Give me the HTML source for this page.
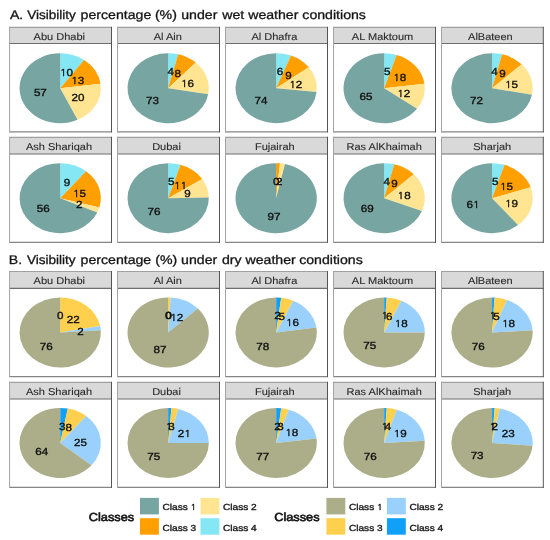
<!DOCTYPE html>
<html><head><meta charset="utf-8"><title>Visibility percentage</title>
<style>html,body{margin:0;padding:0;background:#fff;}body{width:550px;height:540px;overflow:hidden;}svg{display:block;font-family:"Liberation Sans",Arial,sans-serif;}</style>
</head><body>
<svg width="550" height="540" viewBox="0 0 550 540" font-family="Liberation Sans, Arial, sans-serif" text-rendering="geometricPrecision">
<text transform="translate(9.90,18.9) scale(1.1294,1)" font-size="12.5" fill="#141414" stroke="#141414" stroke-width="0.3">A.</text>
<text transform="translate(27.16,18.9) scale(1.0842,1)" font-size="12.5" fill="#141414" stroke="#141414" stroke-width="0.3">Visibility</text>
<text transform="translate(80.62,18.9) scale(1.1294,1)" font-size="12.5" fill="#141414" stroke="#141414" stroke-width="0.3">percentage</text>
<text transform="translate(154.88,18.9) scale(1.1294,1)" font-size="12.5" fill="#141414" stroke="#141414" stroke-width="0.3">(%)</text>
<text transform="translate(181.26,18.9) scale(1.1294,1)" font-size="12.5" fill="#141414" stroke="#141414" stroke-width="0.3">under</text>
<text transform="translate(222.29,18.9) scale(1.1294,1)" font-size="12.5" fill="#141414" stroke="#141414" stroke-width="0.3">wet</text>
<text transform="translate(248.18,18.9) scale(1.1294,1)" font-size="12.5" fill="#141414" stroke="#141414" stroke-width="0.3">weather</text>
<text transform="translate(302.33,18.9) scale(1.1294,1)" font-size="12.5" fill="#141414" stroke="#141414" stroke-width="0.3">conditions</text>
<text transform="translate(8.80,263.9) scale(1.1289,1)" font-size="12.5" fill="#141414" stroke="#141414" stroke-width="0.3">B.</text>
<text transform="translate(26.95,263.9) scale(1.0838,1)" font-size="12.5" fill="#141414" stroke="#141414" stroke-width="0.3">Visibility</text>
<text transform="translate(80.59,263.9) scale(1.1289,1)" font-size="12.5" fill="#141414" stroke="#141414" stroke-width="0.3">percentage</text>
<text transform="translate(155.32,263.9) scale(1.1289,1)" font-size="12.5" fill="#141414" stroke="#141414" stroke-width="0.3">(%)</text>
<text transform="translate(181.09,263.9) scale(1.1289,1)" font-size="12.5" fill="#141414" stroke="#141414" stroke-width="0.3">under</text>
<text transform="translate(222.01,263.9) scale(1.1289,1)" font-size="12.5" fill="#141414" stroke="#141414" stroke-width="0.3">dry</text>
<text transform="translate(245.53,263.9) scale(1.1289,1)" font-size="12.5" fill="#141414" stroke="#141414" stroke-width="0.3">weather</text>
<text transform="translate(299.16,263.9) scale(1.1289,1)" font-size="12.5" fill="#141414" stroke="#141414" stroke-width="0.3">conditions</text>
<rect x="9.60" y="27.30" width="101.90" height="16.20" fill="#d9d9d9"/>
<line x1="9.10" y1="27.30" x2="112.00" y2="27.30" stroke="#a0a0a0" stroke-width="1.2"/>
<line x1="9.10" y1="43.50" x2="112.00" y2="43.50" stroke="#6e6e6e" stroke-width="1.2"/>
<line x1="9.10" y1="131.85" x2="112.00" y2="131.85" stroke="#858585" stroke-width="1.3"/>
<line x1="9.60" y1="26.80" x2="9.60" y2="132.35" stroke="#a4a4a4" stroke-width="1.0"/>
<line x1="111.50" y1="26.80" x2="111.50" y2="132.35" stroke="#555555" stroke-width="1.0"/>
<text transform="translate(59.25,39.70) scale(1.115,1)" font-size="9.9" text-anchor="middle" fill="#2c2c2c" font-weight="normal"  stroke="#2c2c2c" stroke-width="0.12">Abu Dhabi</text>
<path d="M60.20,88.20L60.20,53.20A40.65,35.0 0 0,1 84.09,59.88Z" fill="#85e6f4"/>
<path d="M60.20,88.20L84.09,59.88A40.65,35.0 0 0,1 100.53,83.81Z" fill="#ff9f00"/>
<path d="M60.20,88.20L100.53,83.81A40.65,35.0 0 0,1 77.51,119.87Z" fill="#ffe592"/>
<path d="M60.20,88.20L77.51,119.87A40.65,35.0 0 1,1 60.20,53.20Z" fill="#77a5a1"/>
<text transform="translate(66.48,75.86) scale(1.13,1)" font-size="10.3" text-anchor="middle" fill="#111" font-weight="normal"  stroke="#111" stroke-width="0.35"><tspan font-family="NanumGothic, Liberation Sans, sans-serif" font-size="9.50">1</tspan>0</text>
<text transform="translate(77.69,83.59) scale(1.13,1)" font-size="10.3" text-anchor="middle" fill="#111" font-weight="normal"  stroke="#111" stroke-width="0.35"><tspan font-family="NanumGothic, Liberation Sans, sans-serif" font-size="9.50">1</tspan>3</text>
<text transform="translate(78.01,100.93) scale(1.13,1)" font-size="10.3" text-anchor="middle" fill="#111" font-weight="normal"  stroke="#111" stroke-width="0.35">20</text>
<text transform="translate(40.36,96.32) scale(1.13,1)" font-size="10.3" text-anchor="middle" fill="#111" font-weight="normal"  stroke="#111" stroke-width="0.35">57</text>
<rect x="117.50" y="27.30" width="102.00" height="16.20" fill="#d9d9d9"/>
<line x1="117.00" y1="27.30" x2="220.00" y2="27.30" stroke="#a0a0a0" stroke-width="1.2"/>
<line x1="117.00" y1="43.50" x2="220.00" y2="43.50" stroke="#6e6e6e" stroke-width="1.2"/>
<line x1="117.00" y1="131.85" x2="220.00" y2="131.85" stroke="#858585" stroke-width="1.3"/>
<line x1="117.50" y1="26.80" x2="117.50" y2="132.35" stroke="#a4a4a4" stroke-width="1.0"/>
<line x1="219.50" y1="26.80" x2="219.50" y2="132.35" stroke="#555555" stroke-width="1.0"/>
<text transform="translate(167.75,39.70) scale(1.115,1)" font-size="9.9" text-anchor="middle" fill="#2c2c2c" font-weight="normal"  stroke="#2c2c2c" stroke-width="0.12">Al Ain</text>
<path d="M168.15,88.20L168.15,53.20A40.65,35.0 0 0,1 178.16,54.28Z" fill="#85e6f4"/>
<path d="M168.15,88.20L178.16,54.28A40.65,35.0 0 0,1 195.75,62.51Z" fill="#ff9f00"/>
<path d="M168.15,88.20L195.75,62.51A40.65,35.0 0 0,1 208.21,94.16Z" fill="#ffe592"/>
<path d="M168.15,88.20L208.21,94.16A40.65,35.0 0 1,1 168.15,53.20Z" fill="#77a5a1"/>
<text transform="translate(170.67,75.14) scale(1.13,1)" font-size="10.3" text-anchor="middle" fill="#111" font-weight="normal"  stroke="#111" stroke-width="0.35">4</text>
<text transform="translate(177.85,77.12) scale(1.13,1)" font-size="10.3" text-anchor="middle" fill="#111" font-weight="normal"  stroke="#111" stroke-width="0.35">8</text>
<text transform="translate(187.40,86.89) scale(1.13,1)" font-size="10.3" text-anchor="middle" fill="#111" font-weight="normal"  stroke="#111" stroke-width="0.35"><tspan font-family="NanumGothic, Liberation Sans, sans-serif" font-size="9.50">1</tspan>6</text>
<text transform="translate(152.60,103.77) scale(1.13,1)" font-size="10.3" text-anchor="middle" fill="#111" font-weight="normal"  stroke="#111" stroke-width="0.35">73</text>
<rect x="225.50" y="27.30" width="102.00" height="16.20" fill="#d9d9d9"/>
<line x1="225.00" y1="27.30" x2="328.00" y2="27.30" stroke="#a0a0a0" stroke-width="1.2"/>
<line x1="225.00" y1="43.50" x2="328.00" y2="43.50" stroke="#6e6e6e" stroke-width="1.2"/>
<line x1="225.00" y1="131.85" x2="328.00" y2="131.85" stroke="#858585" stroke-width="1.3"/>
<line x1="225.50" y1="26.80" x2="225.50" y2="132.35" stroke="#a4a4a4" stroke-width="1.0"/>
<line x1="327.50" y1="26.80" x2="327.50" y2="132.35" stroke="#555555" stroke-width="1.0"/>
<text transform="translate(274.35,39.70) scale(1.115,1)" font-size="9.9" text-anchor="middle" fill="#2c2c2c" font-weight="normal"  stroke="#2c2c2c" stroke-width="0.12">Al Dhafra</text>
<path d="M276.15,88.20L276.15,53.20A40.65,35.0 0 0,1 290.97,55.61Z" fill="#85e6f4"/>
<path d="M276.15,88.20L290.97,55.61A40.65,35.0 0 0,1 308.81,67.36Z" fill="#ff9f00"/>
<path d="M276.15,88.20L308.81,67.36A40.65,35.0 0 0,1 316.56,92.00Z" fill="#ffe592"/>
<path d="M276.15,88.20L316.56,92.00A40.65,35.0 0 1,1 276.15,53.20Z" fill="#77a5a1"/>
<text transform="translate(279.92,75.30) scale(1.13,1)" font-size="10.3" text-anchor="middle" fill="#111" font-weight="normal"  stroke="#111" stroke-width="0.35">6</text>
<text transform="translate(288.50,78.60) scale(1.13,1)" font-size="10.3" text-anchor="middle" fill="#111" font-weight="normal"  stroke="#111" stroke-width="0.35">9</text>
<text transform="translate(295.77,87.93) scale(1.13,1)" font-size="10.3" text-anchor="middle" fill="#111" font-weight="normal"  stroke="#111" stroke-width="0.35"><tspan font-family="NanumGothic, Liberation Sans, sans-serif" font-size="9.50">1</tspan>2</text>
<text transform="translate(261.02,104.18) scale(1.13,1)" font-size="10.3" text-anchor="middle" fill="#111" font-weight="normal"  stroke="#111" stroke-width="0.35">74</text>
<rect x="333.50" y="27.30" width="102.00" height="16.20" fill="#d9d9d9"/>
<line x1="333.00" y1="27.30" x2="436.00" y2="27.30" stroke="#a0a0a0" stroke-width="1.2"/>
<line x1="333.00" y1="43.50" x2="436.00" y2="43.50" stroke="#6e6e6e" stroke-width="1.2"/>
<line x1="333.00" y1="131.85" x2="436.00" y2="131.85" stroke="#858585" stroke-width="1.3"/>
<line x1="333.50" y1="26.80" x2="333.50" y2="132.35" stroke="#a4a4a4" stroke-width="1.0"/>
<line x1="435.50" y1="26.80" x2="435.50" y2="132.35" stroke="#555555" stroke-width="1.0"/>
<text transform="translate(382.55,39.70) scale(1.115,1)" font-size="9.9" text-anchor="middle" fill="#2c2c2c" font-weight="normal"  stroke="#2c2c2c" stroke-width="0.12">AL Maktoum</text>
<path d="M384.15,88.20L384.15,53.20A40.65,35.0 0 0,1 396.71,54.91Z" fill="#85e6f4"/>
<path d="M384.15,88.20L396.71,54.91A40.65,35.0 0 0,1 424.48,83.81Z" fill="#ff9f00"/>
<path d="M384.15,88.20L424.48,83.81A40.65,35.0 0 0,1 417.04,108.77Z" fill="#ffe592"/>
<path d="M384.15,88.20L417.04,108.77A40.65,35.0 0 1,1 384.15,53.20Z" fill="#77a5a1"/>
<text transform="translate(387.33,75.22) scale(1.13,1)" font-size="10.3" text-anchor="middle" fill="#111" font-weight="normal"  stroke="#111" stroke-width="0.35">5</text>
<text transform="translate(399.81,81.35) scale(1.13,1)" font-size="10.3" text-anchor="middle" fill="#111" font-weight="normal"  stroke="#111" stroke-width="0.35"><tspan font-family="NanumGothic, Liberation Sans, sans-serif" font-size="9.50">1</tspan>8</text>
<text transform="translate(403.84,96.85) scale(1.13,1)" font-size="10.3" text-anchor="middle" fill="#111" font-weight="normal"  stroke="#111" stroke-width="0.35"><tspan font-family="NanumGothic, Liberation Sans, sans-serif" font-size="9.50">1</tspan>2</text>
<text transform="translate(366.04,100.44) scale(1.13,1)" font-size="10.3" text-anchor="middle" fill="#111" font-weight="normal"  stroke="#111" stroke-width="0.35">65</text>
<rect x="441.50" y="27.30" width="101.80" height="16.20" fill="#d9d9d9"/>
<line x1="441.00" y1="27.30" x2="543.80" y2="27.30" stroke="#a0a0a0" stroke-width="1.2"/>
<line x1="441.00" y1="43.50" x2="543.80" y2="43.50" stroke="#6e6e6e" stroke-width="1.2"/>
<line x1="441.00" y1="131.85" x2="543.80" y2="131.85" stroke="#858585" stroke-width="1.3"/>
<line x1="441.50" y1="26.80" x2="441.50" y2="132.35" stroke="#a4a4a4" stroke-width="1.0"/>
<line x1="543.30" y1="26.80" x2="543.30" y2="132.35" stroke="#555555" stroke-width="1.0"/>
<text transform="translate(490.40,39.70) scale(1.115,1)" font-size="9.9" text-anchor="middle" fill="#2c2c2c" font-weight="normal"  stroke="#2c2c2c" stroke-width="0.12">AlBateen</text>
<path d="M492.05,88.20L492.05,53.20A40.65,35.0 0 0,1 502.16,54.30Z" fill="#85e6f4"/>
<path d="M492.05,88.20L502.16,54.30A40.65,35.0 0 0,1 521.68,64.24Z" fill="#ff9f00"/>
<path d="M492.05,88.20L521.68,64.24A40.65,35.0 0 0,1 531.98,94.76Z" fill="#ffe592"/>
<path d="M492.05,88.20L531.98,94.76A40.65,35.0 0 1,1 492.05,53.20Z" fill="#77a5a1"/>
<text transform="translate(494.60,75.14) scale(1.13,1)" font-size="10.3" text-anchor="middle" fill="#111" font-weight="normal"  stroke="#111" stroke-width="0.35">4</text>
<text transform="translate(502.40,77.44) scale(1.13,1)" font-size="10.3" text-anchor="middle" fill="#111" font-weight="normal"  stroke="#111" stroke-width="0.35">9</text>
<text transform="translate(511.57,87.62) scale(1.13,1)" font-size="10.3" text-anchor="middle" fill="#111" font-weight="normal"  stroke="#111" stroke-width="0.35"><tspan font-family="NanumGothic, Liberation Sans, sans-serif" font-size="9.50">1</tspan>5</text>
<text transform="translate(476.39,103.65) scale(1.13,1)" font-size="10.3" text-anchor="middle" fill="#111" font-weight="normal"  stroke="#111" stroke-width="0.35">72</text>
<rect x="9.60" y="137.30" width="101.90" height="16.70" fill="#d9d9d9"/>
<line x1="9.10" y1="137.30" x2="112.00" y2="137.30" stroke="#a0a0a0" stroke-width="1.2"/>
<line x1="9.10" y1="154.00" x2="112.00" y2="154.00" stroke="#6e6e6e" stroke-width="1.2"/>
<line x1="9.10" y1="242.40" x2="112.00" y2="242.40" stroke="#858585" stroke-width="1.3"/>
<line x1="9.60" y1="136.80" x2="9.60" y2="242.90" stroke="#a4a4a4" stroke-width="1.0"/>
<line x1="111.50" y1="136.80" x2="111.50" y2="242.90" stroke="#555555" stroke-width="1.0"/>
<text transform="translate(58.95,150.05) scale(1.115,1)" font-size="9.9" text-anchor="middle" fill="#2c2c2c" font-weight="normal"  stroke="#2c2c2c" stroke-width="0.12">Ash Shariqah</text>
<path d="M60.20,198.15L60.20,163.15A40.65,35.0 0 0,1 86.06,171.15Z" fill="#85e6f4"/>
<path d="M60.20,198.15L86.06,171.15A40.65,35.0 0 0,1 99.40,207.42Z" fill="#ff9f00"/>
<path d="M60.20,198.15L99.40,207.42A40.65,35.0 0 0,1 97.29,212.47Z" fill="#ffe592"/>
<path d="M60.20,198.15L97.29,212.47A40.65,35.0 0 1,1 60.20,163.15Z" fill="#77a5a1"/>
<text transform="translate(67.07,185.98) scale(1.13,1)" font-size="10.3" text-anchor="middle" fill="#111" font-weight="normal"  stroke="#111" stroke-width="0.35">9</text>
<text transform="translate(79.58,197.17) scale(1.13,1)" font-size="10.3" text-anchor="middle" fill="#111" font-weight="normal"  stroke="#111" stroke-width="0.35"><tspan font-family="NanumGothic, Liberation Sans, sans-serif" font-size="9.50">1</tspan>5</text>
<text transform="translate(79.33,208.37) scale(1.13,1)" font-size="10.3" text-anchor="middle" fill="#111" font-weight="normal"  stroke="#111" stroke-width="0.35">2</text>
<text transform="translate(43.14,211.96) scale(1.13,1)" font-size="10.3" text-anchor="middle" fill="#111" font-weight="normal"  stroke="#111" stroke-width="0.35">56</text>
<rect x="117.50" y="137.30" width="102.00" height="16.70" fill="#d9d9d9"/>
<line x1="117.00" y1="137.30" x2="220.00" y2="137.30" stroke="#a0a0a0" stroke-width="1.2"/>
<line x1="117.00" y1="154.00" x2="220.00" y2="154.00" stroke="#6e6e6e" stroke-width="1.2"/>
<line x1="117.00" y1="242.40" x2="220.00" y2="242.40" stroke="#858585" stroke-width="1.3"/>
<line x1="117.50" y1="136.80" x2="117.50" y2="242.90" stroke="#a4a4a4" stroke-width="1.0"/>
<line x1="219.50" y1="136.80" x2="219.50" y2="242.90" stroke="#555555" stroke-width="1.0"/>
<text transform="translate(166.55,150.05) scale(1.115,1)" font-size="9.9" text-anchor="middle" fill="#2c2c2c" font-weight="normal"  stroke="#2c2c2c" stroke-width="0.12">Dubai</text>
<path d="M168.15,198.15L168.15,163.15A40.65,35.0 0 0,1 180.59,164.83Z" fill="#85e6f4"/>
<path d="M168.15,198.15L180.59,164.83A40.65,35.0 0 0,1 202.25,179.10Z" fill="#ff9f00"/>
<path d="M168.15,198.15L202.25,179.10A40.65,35.0 0 0,1 208.80,197.61Z" fill="#ffe592"/>
<path d="M168.15,198.15L208.80,197.61A40.65,35.0 0 1,1 168.15,163.15Z" fill="#77a5a1"/>
<text transform="translate(171.30,185.16) scale(1.13,1)" font-size="10.3" text-anchor="middle" fill="#111" font-weight="normal"  stroke="#111" stroke-width="0.35">5</text>
<text transform="translate(180.50,188.55) scale(1.13,1)" font-size="10.3" text-anchor="middle" fill="#111" font-weight="normal"  stroke="#111" stroke-width="0.35"><tspan font-family="NanumGothic, Liberation Sans, sans-serif" font-size="9.50">1</tspan><tspan font-family="NanumGothic, Liberation Sans, sans-serif" font-size="9.50">1</tspan></text>
<text transform="translate(187.59,197.35) scale(1.13,1)" font-size="10.3" text-anchor="middle" fill="#111" font-weight="normal"  stroke="#111" stroke-width="0.35">9</text>
<text transform="translate(153.89,214.92) scale(1.13,1)" font-size="10.3" text-anchor="middle" fill="#111" font-weight="normal"  stroke="#111" stroke-width="0.35">76</text>
<rect x="225.50" y="137.30" width="102.00" height="16.70" fill="#d9d9d9"/>
<line x1="225.00" y1="137.30" x2="328.00" y2="137.30" stroke="#a0a0a0" stroke-width="1.2"/>
<line x1="225.00" y1="154.00" x2="328.00" y2="154.00" stroke="#6e6e6e" stroke-width="1.2"/>
<line x1="225.00" y1="242.40" x2="328.00" y2="242.40" stroke="#858585" stroke-width="1.3"/>
<line x1="225.50" y1="136.80" x2="225.50" y2="242.90" stroke="#a4a4a4" stroke-width="1.0"/>
<line x1="327.50" y1="136.80" x2="327.50" y2="242.90" stroke="#555555" stroke-width="1.0"/>
<text transform="translate(274.80,150.05) scale(1.115,1)" font-size="9.9" text-anchor="middle" fill="#2c2c2c" font-weight="normal"  stroke="#2c2c2c" stroke-width="0.12">Fujairah</text>
<path d="M276.15,198.15L276.15,163.15A40.65,35.0 0 0,1 279.98,163.31Z" fill="#ff9f00"/>
<path d="M276.15,198.15L279.98,163.31A40.65,35.0 0 0,1 285.02,163.99Z" fill="#ffe592"/>
<path d="M276.15,198.15L285.02,163.99A40.65,35.0 0 1,1 276.15,163.15Z" fill="#77a5a1"/>
<text transform="translate(276.15,184.95) scale(1.13,1)" font-size="10.3" text-anchor="middle" fill="#111" font-weight="normal"  stroke="#111" stroke-width="0.35">0</text>
<text transform="translate(279.33,185.17) scale(1.13,1)" font-size="10.3" text-anchor="middle" fill="#111" font-weight="normal"  stroke="#111" stroke-width="0.35">2</text>
<text transform="translate(273.92,219.84) scale(1.13,1)" font-size="10.3" text-anchor="middle" fill="#111" font-weight="normal"  stroke="#111" stroke-width="0.35">97</text>
<rect x="333.50" y="137.30" width="102.00" height="16.70" fill="#d9d9d9"/>
<line x1="333.00" y1="137.30" x2="436.00" y2="137.30" stroke="#a0a0a0" stroke-width="1.2"/>
<line x1="333.00" y1="154.00" x2="436.00" y2="154.00" stroke="#6e6e6e" stroke-width="1.2"/>
<line x1="333.00" y1="242.40" x2="436.00" y2="242.40" stroke="#858585" stroke-width="1.3"/>
<line x1="333.50" y1="136.80" x2="333.50" y2="242.90" stroke="#a4a4a4" stroke-width="1.0"/>
<line x1="435.50" y1="136.80" x2="435.50" y2="242.90" stroke="#555555" stroke-width="1.0"/>
<text transform="translate(384.15,150.05) scale(1.115,1)" font-size="9.9" text-anchor="middle" fill="#2c2c2c" font-weight="normal"  stroke="#2c2c2c" stroke-width="0.12">Ras AlKhaimah</text>
<path d="M384.15,198.15L384.15,163.15A40.65,35.0 0 0,1 394.26,164.25Z" fill="#85e6f4"/>
<path d="M384.15,198.15L394.26,164.25A40.65,35.0 0 0,1 413.78,174.19Z" fill="#ff9f00"/>
<path d="M384.15,198.15L413.78,174.19A40.65,35.0 0 0,1 421.95,211.03Z" fill="#ffe592"/>
<path d="M384.15,198.15L421.95,211.03A40.65,35.0 0 1,1 384.15,163.15Z" fill="#77a5a1"/>
<text transform="translate(386.70,185.09) scale(1.13,1)" font-size="10.3" text-anchor="middle" fill="#111" font-weight="normal"  stroke="#111" stroke-width="0.35">4</text>
<text transform="translate(394.50,187.39) scale(1.13,1)" font-size="10.3" text-anchor="middle" fill="#111" font-weight="normal"  stroke="#111" stroke-width="0.35">9</text>
<text transform="translate(404.11,199.17) scale(1.13,1)" font-size="10.3" text-anchor="middle" fill="#111" font-weight="normal"  stroke="#111" stroke-width="0.35"><tspan font-family="NanumGothic, Liberation Sans, sans-serif" font-size="9.50">1</tspan>8</text>
<text transform="translate(367.34,212.29) scale(1.13,1)" font-size="10.3" text-anchor="middle" fill="#111" font-weight="normal"  stroke="#111" stroke-width="0.35">69</text>
<rect x="441.50" y="137.30" width="101.80" height="16.70" fill="#d9d9d9"/>
<line x1="441.00" y1="137.30" x2="543.80" y2="137.30" stroke="#a0a0a0" stroke-width="1.2"/>
<line x1="441.00" y1="154.00" x2="543.80" y2="154.00" stroke="#6e6e6e" stroke-width="1.2"/>
<line x1="441.00" y1="242.40" x2="543.80" y2="242.40" stroke="#858585" stroke-width="1.3"/>
<line x1="441.50" y1="136.80" x2="441.50" y2="242.90" stroke="#a4a4a4" stroke-width="1.0"/>
<line x1="543.30" y1="136.80" x2="543.30" y2="242.90" stroke="#555555" stroke-width="1.0"/>
<text transform="translate(492.15,150.05) scale(1.115,1)" font-size="9.9" text-anchor="middle" fill="#2c2c2c" font-weight="normal"  stroke="#2c2c2c" stroke-width="0.12">Sharjah</text>
<path d="M492.05,198.15L492.05,163.15A40.65,35.0 0 0,1 504.61,164.86Z" fill="#85e6f4"/>
<path d="M492.05,198.15L504.61,164.86A40.65,35.0 0 0,1 530.71,187.33Z" fill="#ff9f00"/>
<path d="M492.05,198.15L530.71,187.33A40.65,35.0 0 0,1 517.96,225.12Z" fill="#ffe592"/>
<path d="M492.05,198.15L517.96,225.12A40.65,35.0 0 1,1 492.05,163.15Z" fill="#77a5a1"/>
<text transform="translate(495.23,185.17) scale(1.13,1)" font-size="10.3" text-anchor="middle" fill="#111" font-weight="normal"  stroke="#111" stroke-width="0.35">5</text>
<text transform="translate(506.42,190.08) scale(1.13,1)" font-size="10.3" text-anchor="middle" fill="#111" font-weight="normal"  stroke="#111" stroke-width="0.35"><tspan font-family="NanumGothic, Liberation Sans, sans-serif" font-size="9.50">1</tspan>5</text>
<text transform="translate(511.57,207.33) scale(1.13,1)" font-size="10.3" text-anchor="middle" fill="#111" font-weight="normal"  stroke="#111" stroke-width="0.35"><tspan font-family="NanumGothic, Liberation Sans, sans-serif" font-size="9.50">1</tspan>9</text>
<text transform="translate(472.93,208.38) scale(1.13,1)" font-size="10.3" text-anchor="middle" fill="#111" font-weight="normal"  stroke="#111" stroke-width="0.35">6<tspan font-family="NanumGothic, Liberation Sans, sans-serif" font-size="9.50">1</tspan></text>
<rect x="9.60" y="271.50" width="101.90" height="16.80" fill="#d9d9d9"/>
<line x1="9.10" y1="271.50" x2="112.00" y2="271.50" stroke="#a0a0a0" stroke-width="1.2"/>
<line x1="9.10" y1="288.30" x2="112.00" y2="288.30" stroke="#6e6e6e" stroke-width="1.2"/>
<line x1="9.10" y1="376.60" x2="112.00" y2="376.60" stroke="#858585" stroke-width="1.3"/>
<line x1="9.60" y1="271.00" x2="9.60" y2="377.10" stroke="#a4a4a4" stroke-width="1.0"/>
<line x1="111.50" y1="271.00" x2="111.50" y2="377.10" stroke="#555555" stroke-width="1.0"/>
<text transform="translate(59.25,283.70) scale(1.115,1)" font-size="9.9" text-anchor="middle" fill="#2c2c2c" font-weight="normal"  stroke="#2c2c2c" stroke-width="0.12">Abu Dhabi</text>
<path d="M60.20,332.50L60.20,297.50A40.65,35.0 0 0,1 100.13,325.94Z" fill="#ffd04d"/>
<path d="M60.20,332.50L100.13,325.94A40.65,35.0 0 0,1 100.77,330.30Z" fill="#99d1fc"/>
<path d="M60.20,332.50L100.77,330.30A40.65,35.0 0 1,1 60.20,297.50Z" fill="#abae88"/>
<text transform="translate(60.20,319.30) scale(1.13,1)" font-size="10.3" text-anchor="middle" fill="#111" font-weight="normal"  stroke="#111" stroke-width="0.35">0</text>
<text transform="translate(73.16,323.32) scale(1.13,1)" font-size="10.3" text-anchor="middle" fill="#111" font-weight="normal"  stroke="#111" stroke-width="0.35">22</text>
<text transform="translate(80.36,334.61) scale(1.13,1)" font-size="10.3" text-anchor="middle" fill="#111" font-weight="normal"  stroke="#111" stroke-width="0.35">2</text>
<text transform="translate(46.29,349.56) scale(1.13,1)" font-size="10.3" text-anchor="middle" fill="#111" font-weight="normal"  stroke="#111" stroke-width="0.35">76</text>
<rect x="117.50" y="271.50" width="102.00" height="16.80" fill="#d9d9d9"/>
<line x1="117.00" y1="271.50" x2="220.00" y2="271.50" stroke="#a0a0a0" stroke-width="1.2"/>
<line x1="117.00" y1="288.30" x2="220.00" y2="288.30" stroke="#6e6e6e" stroke-width="1.2"/>
<line x1="117.00" y1="376.60" x2="220.00" y2="376.60" stroke="#858585" stroke-width="1.3"/>
<line x1="117.50" y1="271.00" x2="117.50" y2="377.10" stroke="#a4a4a4" stroke-width="1.0"/>
<line x1="219.50" y1="271.00" x2="219.50" y2="377.10" stroke="#555555" stroke-width="1.0"/>
<text transform="translate(167.75,283.70) scale(1.115,1)" font-size="9.9" text-anchor="middle" fill="#2c2c2c" font-weight="normal"  stroke="#2c2c2c" stroke-width="0.12">Al Ain</text>
<path d="M168.15,332.50L168.15,297.50A40.65,35.0 0 0,1 170.70,297.57Z" fill="#ffd04d"/>
<path d="M168.15,332.50L170.70,297.57A40.65,35.0 0 0,1 197.78,308.54Z" fill="#99d1fc"/>
<path d="M168.15,332.50L197.78,308.54A40.65,35.0 0 1,1 168.15,297.50Z" fill="#abae88"/>
<text transform="translate(168.15,319.30) scale(1.13,1)" font-size="10.3" text-anchor="middle" fill="#111" font-weight="normal"  stroke="#111" stroke-width="0.35">0</text>
<text transform="translate(168.79,319.31) scale(1.13,1)" font-size="10.3" text-anchor="middle" fill="#111" font-weight="normal"  stroke="#111" stroke-width="0.35">0</text>
<text transform="translate(176.80,320.97) scale(1.13,1)" font-size="10.3" text-anchor="middle" fill="#111" font-weight="normal"  stroke="#111" stroke-width="0.35"><tspan font-family="NanumGothic, Liberation Sans, sans-serif" font-size="9.50">1</tspan>2</text>
<text transform="translate(160.08,352.86) scale(1.13,1)" font-size="10.3" text-anchor="middle" fill="#111" font-weight="normal"  stroke="#111" stroke-width="0.35">87</text>
<rect x="225.50" y="271.50" width="102.00" height="16.80" fill="#d9d9d9"/>
<line x1="225.00" y1="271.50" x2="328.00" y2="271.50" stroke="#a0a0a0" stroke-width="1.2"/>
<line x1="225.00" y1="288.30" x2="328.00" y2="288.30" stroke="#6e6e6e" stroke-width="1.2"/>
<line x1="225.00" y1="376.60" x2="328.00" y2="376.60" stroke="#858585" stroke-width="1.3"/>
<line x1="225.50" y1="271.00" x2="225.50" y2="377.10" stroke="#a4a4a4" stroke-width="1.0"/>
<line x1="327.50" y1="271.00" x2="327.50" y2="377.10" stroke="#555555" stroke-width="1.0"/>
<text transform="translate(274.35,283.70) scale(1.115,1)" font-size="9.9" text-anchor="middle" fill="#2c2c2c" font-weight="normal"  stroke="#2c2c2c" stroke-width="0.12">Al Dhafra</text>
<path d="M276.15,332.50L276.15,297.50A40.65,35.0 0 0,1 281.19,297.77Z" fill="#10a0f8"/>
<path d="M276.15,332.50L281.19,297.77A40.65,35.0 0 0,1 293.30,300.77Z" fill="#ffd04d"/>
<path d="M276.15,332.50L293.30,300.77A40.65,35.0 0 0,1 316.40,327.62Z" fill="#99d1fc"/>
<path d="M276.15,332.50L316.40,327.62A40.65,35.0 0 1,1 276.15,297.50Z" fill="#abae88"/>
<text transform="translate(277.41,319.33) scale(1.13,1)" font-size="10.3" text-anchor="middle" fill="#111" font-weight="normal"  stroke="#111" stroke-width="0.35">2</text>
<text transform="translate(281.77,319.98) scale(1.13,1)" font-size="10.3" text-anchor="middle" fill="#111" font-weight="normal"  stroke="#111" stroke-width="0.35">5</text>
<text transform="translate(292.48,326.38) scale(1.13,1)" font-size="10.3" text-anchor="middle" fill="#111" font-weight="normal"  stroke="#111" stroke-width="0.35"><tspan font-family="NanumGothic, Liberation Sans, sans-serif" font-size="9.50">1</tspan>6</text>
<text transform="translate(262.82,350.01) scale(1.13,1)" font-size="10.3" text-anchor="middle" fill="#111" font-weight="normal"  stroke="#111" stroke-width="0.35">78</text>
<rect x="333.50" y="271.50" width="102.00" height="16.80" fill="#d9d9d9"/>
<line x1="333.00" y1="271.50" x2="436.00" y2="271.50" stroke="#a0a0a0" stroke-width="1.2"/>
<line x1="333.00" y1="288.30" x2="436.00" y2="288.30" stroke="#6e6e6e" stroke-width="1.2"/>
<line x1="333.00" y1="376.60" x2="436.00" y2="376.60" stroke="#858585" stroke-width="1.3"/>
<line x1="333.50" y1="271.00" x2="333.50" y2="377.10" stroke="#a4a4a4" stroke-width="1.0"/>
<line x1="435.50" y1="271.00" x2="435.50" y2="377.10" stroke="#555555" stroke-width="1.0"/>
<text transform="translate(382.55,283.70) scale(1.115,1)" font-size="9.9" text-anchor="middle" fill="#2c2c2c" font-weight="normal"  stroke="#2c2c2c" stroke-width="0.12">AL Maktoum</text>
<path d="M384.15,332.50L384.15,297.50A40.65,35.0 0 0,1 386.70,297.57Z" fill="#10a0f8"/>
<path d="M384.15,332.50L386.70,297.57A40.65,35.0 0 0,1 401.46,300.83Z" fill="#ffd04d"/>
<path d="M384.15,332.50L401.46,300.83A40.65,35.0 0 0,1 424.80,332.50Z" fill="#99d1fc"/>
<path d="M384.15,332.50L424.80,332.50A40.65,35.0 0 1,1 384.15,297.50Z" fill="#abae88"/>
<text transform="translate(384.79,319.31) scale(1.13,1)" font-size="10.3" text-anchor="middle" fill="#111" font-weight="normal"  stroke="#111" stroke-width="0.35"><tspan font-family="NanumGothic, Liberation Sans, sans-serif" font-size="9.50">1</tspan></text>
<text transform="translate(389.20,319.85) scale(1.13,1)" font-size="10.3" text-anchor="middle" fill="#111" font-weight="normal"  stroke="#111" stroke-width="0.35">6</text>
<text transform="translate(401.31,327.42) scale(1.13,1)" font-size="10.3" text-anchor="middle" fill="#111" font-weight="normal"  stroke="#111" stroke-width="0.35"><tspan font-family="NanumGothic, Liberation Sans, sans-serif" font-size="9.50">1</tspan>8</text>
<text transform="translate(369.78,349.17) scale(1.13,1)" font-size="10.3" text-anchor="middle" fill="#111" font-weight="normal"  stroke="#111" stroke-width="0.35">75</text>
<rect x="441.50" y="271.50" width="101.80" height="16.80" fill="#d9d9d9"/>
<line x1="441.00" y1="271.50" x2="543.80" y2="271.50" stroke="#a0a0a0" stroke-width="1.2"/>
<line x1="441.00" y1="288.30" x2="543.80" y2="288.30" stroke="#6e6e6e" stroke-width="1.2"/>
<line x1="441.00" y1="376.60" x2="543.80" y2="376.60" stroke="#858585" stroke-width="1.3"/>
<line x1="441.50" y1="271.00" x2="441.50" y2="377.10" stroke="#a4a4a4" stroke-width="1.0"/>
<line x1="543.30" y1="271.00" x2="543.30" y2="377.10" stroke="#555555" stroke-width="1.0"/>
<text transform="translate(490.40,283.70) scale(1.115,1)" font-size="9.9" text-anchor="middle" fill="#2c2c2c" font-weight="normal"  stroke="#2c2c2c" stroke-width="0.12">AlBateen</text>
<path d="M492.05,332.50L492.05,297.50A40.65,35.0 0 0,1 494.60,297.57Z" fill="#10a0f8"/>
<path d="M492.05,332.50L494.60,297.57A40.65,35.0 0 0,1 507.01,299.96Z" fill="#ffd04d"/>
<path d="M492.05,332.50L507.01,299.96A40.65,35.0 0 0,1 532.62,330.30Z" fill="#99d1fc"/>
<path d="M492.05,332.50L532.62,330.30A40.65,35.0 0 1,1 492.05,297.50Z" fill="#abae88"/>
<text transform="translate(492.69,319.31) scale(1.13,1)" font-size="10.3" text-anchor="middle" fill="#111" font-weight="normal"  stroke="#111" stroke-width="0.35"><tspan font-family="NanumGothic, Liberation Sans, sans-serif" font-size="9.50">1</tspan></text>
<text transform="translate(496.48,319.72) scale(1.13,1)" font-size="10.3" text-anchor="middle" fill="#111" font-weight="normal"  stroke="#111" stroke-width="0.35">5</text>
<text transform="translate(508.49,326.51) scale(1.13,1)" font-size="10.3" text-anchor="middle" fill="#111" font-weight="normal"  stroke="#111" stroke-width="0.35"><tspan font-family="NanumGothic, Liberation Sans, sans-serif" font-size="9.50">1</tspan>8</text>
<text transform="translate(478.14,349.56) scale(1.13,1)" font-size="10.3" text-anchor="middle" fill="#111" font-weight="normal"  stroke="#111" stroke-width="0.35">76</text>
<rect x="9.60" y="382.30" width="101.90" height="16.70" fill="#d9d9d9"/>
<line x1="9.10" y1="382.30" x2="112.00" y2="382.30" stroke="#a0a0a0" stroke-width="1.2"/>
<line x1="9.10" y1="399.00" x2="112.00" y2="399.00" stroke="#6e6e6e" stroke-width="1.2"/>
<line x1="9.10" y1="487.40" x2="112.00" y2="487.40" stroke="#858585" stroke-width="1.3"/>
<line x1="9.60" y1="381.80" x2="9.60" y2="487.90" stroke="#a4a4a4" stroke-width="1.0"/>
<line x1="111.50" y1="381.80" x2="111.50" y2="487.90" stroke="#555555" stroke-width="1.0"/>
<text transform="translate(58.95,395.05) scale(1.115,1)" font-size="9.9" text-anchor="middle" fill="#2c2c2c" font-weight="normal"  stroke="#2c2c2c" stroke-width="0.12">Ash Shariqah</text>
<path d="M60.20,442.95L60.20,407.95A40.65,35.0 0 0,1 67.82,408.57Z" fill="#10a0f8"/>
<path d="M60.20,442.95L67.82,408.57A40.65,35.0 0 0,1 86.11,415.98Z" fill="#ffd04d"/>
<path d="M60.20,442.95L86.11,415.98A40.65,35.0 0 0,1 91.52,465.26Z" fill="#99d1fc"/>
<path d="M60.20,442.95L91.52,465.26A40.65,35.0 0 1,1 60.20,407.95Z" fill="#abae88"/>
<text transform="translate(62.11,429.83) scale(1.13,1)" font-size="10.3" text-anchor="middle" fill="#111" font-weight="normal"  stroke="#111" stroke-width="0.35">3</text>
<text transform="translate(68.85,431.42) scale(1.13,1)" font-size="10.3" text-anchor="middle" fill="#111" font-weight="normal"  stroke="#111" stroke-width="0.35">8</text>
<text transform="translate(80.43,445.60) scale(1.13,1)" font-size="10.3" text-anchor="middle" fill="#111" font-weight="normal"  stroke="#111" stroke-width="0.35">25</text>
<text transform="translate(41.81,454.70) scale(1.13,1)" font-size="10.3" text-anchor="middle" fill="#111" font-weight="normal"  stroke="#111" stroke-width="0.35">64</text>
<rect x="117.50" y="382.30" width="102.00" height="16.70" fill="#d9d9d9"/>
<line x1="117.00" y1="382.30" x2="220.00" y2="382.30" stroke="#a0a0a0" stroke-width="1.2"/>
<line x1="117.00" y1="399.00" x2="220.00" y2="399.00" stroke="#6e6e6e" stroke-width="1.2"/>
<line x1="117.00" y1="487.40" x2="220.00" y2="487.40" stroke="#858585" stroke-width="1.3"/>
<line x1="117.50" y1="381.80" x2="117.50" y2="487.90" stroke="#a4a4a4" stroke-width="1.0"/>
<line x1="219.50" y1="381.80" x2="219.50" y2="487.90" stroke="#555555" stroke-width="1.0"/>
<text transform="translate(166.55,395.05) scale(1.115,1)" font-size="9.9" text-anchor="middle" fill="#2c2c2c" font-weight="normal"  stroke="#2c2c2c" stroke-width="0.12">Dubai</text>
<path d="M168.15,442.95L168.15,407.95A40.65,35.0 0 0,1 171.47,408.07Z" fill="#10a0f8"/>
<path d="M168.15,442.95L171.47,408.07A40.65,35.0 0 0,1 178.26,409.05Z" fill="#ffd04d"/>
<path d="M168.15,442.95L178.26,409.05A40.65,35.0 0 0,1 208.80,442.95Z" fill="#99d1fc"/>
<path d="M168.15,442.95L208.80,442.95A40.65,35.0 0 1,1 168.15,407.95Z" fill="#abae88"/>
<text transform="translate(168.98,429.76) scale(1.13,1)" font-size="10.3" text-anchor="middle" fill="#111" font-weight="normal"  stroke="#111" stroke-width="0.35"><tspan font-family="NanumGothic, Liberation Sans, sans-serif" font-size="9.50">1</tspan></text>
<text transform="translate(171.52,429.99) scale(1.13,1)" font-size="10.3" text-anchor="middle" fill="#111" font-weight="normal"  stroke="#111" stroke-width="0.35">3</text>
<text transform="translate(184.21,436.52) scale(1.13,1)" font-size="10.3" text-anchor="middle" fill="#111" font-weight="normal"  stroke="#111" stroke-width="0.35">2<tspan font-family="NanumGothic, Liberation Sans, sans-serif" font-size="9.50">1</tspan></text>
<text transform="translate(153.78,459.62) scale(1.13,1)" font-size="10.3" text-anchor="middle" fill="#111" font-weight="normal"  stroke="#111" stroke-width="0.35">75</text>
<rect x="225.50" y="382.30" width="102.00" height="16.70" fill="#d9d9d9"/>
<line x1="225.00" y1="382.30" x2="328.00" y2="382.30" stroke="#a0a0a0" stroke-width="1.2"/>
<line x1="225.00" y1="399.00" x2="328.00" y2="399.00" stroke="#6e6e6e" stroke-width="1.2"/>
<line x1="225.00" y1="487.40" x2="328.00" y2="487.40" stroke="#858585" stroke-width="1.3"/>
<line x1="225.50" y1="381.80" x2="225.50" y2="487.90" stroke="#a4a4a4" stroke-width="1.0"/>
<line x1="327.50" y1="381.80" x2="327.50" y2="487.90" stroke="#555555" stroke-width="1.0"/>
<text transform="translate(274.80,395.05) scale(1.115,1)" font-size="9.9" text-anchor="middle" fill="#2c2c2c" font-weight="normal"  stroke="#2c2c2c" stroke-width="0.12">Fujairah</text>
<path d="M276.15,442.95L276.15,407.95A40.65,35.0 0 0,1 281.24,408.23Z" fill="#10a0f8"/>
<path d="M276.15,442.95L281.24,408.23A40.65,35.0 0 0,1 288.71,409.66Z" fill="#ffd04d"/>
<path d="M276.15,442.95L288.71,409.66A40.65,35.0 0 0,1 316.48,438.56Z" fill="#99d1fc"/>
<path d="M276.15,442.95L316.48,438.56A40.65,35.0 0 1,1 276.15,407.95Z" fill="#abae88"/>
<text transform="translate(277.43,429.78) scale(1.13,1)" font-size="10.3" text-anchor="middle" fill="#111" font-weight="normal"  stroke="#111" stroke-width="0.35">2</text>
<text transform="translate(280.58,430.17) scale(1.13,1)" font-size="10.3" text-anchor="middle" fill="#111" font-weight="normal"  stroke="#111" stroke-width="0.35">3</text>
<text transform="translate(291.81,436.10) scale(1.13,1)" font-size="10.3" text-anchor="middle" fill="#111" font-weight="normal"  stroke="#111" stroke-width="0.35"><tspan font-family="NanumGothic, Liberation Sans, sans-serif" font-size="9.50">1</tspan>8</text>
<text transform="translate(262.71,460.38) scale(1.13,1)" font-size="10.3" text-anchor="middle" fill="#111" font-weight="normal"  stroke="#111" stroke-width="0.35">77</text>
<rect x="333.50" y="382.30" width="102.00" height="16.70" fill="#d9d9d9"/>
<line x1="333.00" y1="382.30" x2="436.00" y2="382.30" stroke="#a0a0a0" stroke-width="1.2"/>
<line x1="333.00" y1="399.00" x2="436.00" y2="399.00" stroke="#6e6e6e" stroke-width="1.2"/>
<line x1="333.00" y1="487.40" x2="436.00" y2="487.40" stroke="#858585" stroke-width="1.3"/>
<line x1="333.50" y1="381.80" x2="333.50" y2="487.90" stroke="#a4a4a4" stroke-width="1.0"/>
<line x1="435.50" y1="381.80" x2="435.50" y2="487.90" stroke="#555555" stroke-width="1.0"/>
<text transform="translate(384.15,395.05) scale(1.115,1)" font-size="9.9" text-anchor="middle" fill="#2c2c2c" font-weight="normal"  stroke="#2c2c2c" stroke-width="0.12">Ras AlKhaimah</text>
<path d="M384.15,442.95L384.15,407.95A40.65,35.0 0 0,1 386.70,408.02Z" fill="#10a0f8"/>
<path d="M384.15,442.95L386.70,408.02A40.65,35.0 0 0,1 396.71,409.66Z" fill="#ffd04d"/>
<path d="M384.15,442.95L396.71,409.66A40.65,35.0 0 0,1 424.72,440.75Z" fill="#99d1fc"/>
<path d="M384.15,442.95L424.72,440.75A40.65,35.0 0 1,1 384.15,407.95Z" fill="#abae88"/>
<text transform="translate(384.79,429.76) scale(1.13,1)" font-size="10.3" text-anchor="middle" fill="#111" font-weight="normal"  stroke="#111" stroke-width="0.35"><tspan font-family="NanumGothic, Liberation Sans, sans-serif" font-size="9.50">1</tspan></text>
<text transform="translate(387.96,430.06) scale(1.13,1)" font-size="10.3" text-anchor="middle" fill="#111" font-weight="normal"  stroke="#111" stroke-width="0.35">4</text>
<text transform="translate(400.21,436.52) scale(1.13,1)" font-size="10.3" text-anchor="middle" fill="#111" font-weight="normal"  stroke="#111" stroke-width="0.35"><tspan font-family="NanumGothic, Liberation Sans, sans-serif" font-size="9.50">1</tspan>9</text>
<text transform="translate(370.24,460.01) scale(1.13,1)" font-size="10.3" text-anchor="middle" fill="#111" font-weight="normal"  stroke="#111" stroke-width="0.35">76</text>
<rect x="441.50" y="382.30" width="101.80" height="16.70" fill="#d9d9d9"/>
<line x1="441.00" y1="382.30" x2="543.80" y2="382.30" stroke="#a0a0a0" stroke-width="1.2"/>
<line x1="441.00" y1="399.00" x2="543.80" y2="399.00" stroke="#6e6e6e" stroke-width="1.2"/>
<line x1="441.00" y1="487.40" x2="543.80" y2="487.40" stroke="#858585" stroke-width="1.3"/>
<line x1="441.50" y1="381.80" x2="441.50" y2="487.90" stroke="#a4a4a4" stroke-width="1.0"/>
<line x1="543.30" y1="381.80" x2="543.30" y2="487.90" stroke="#555555" stroke-width="1.0"/>
<text transform="translate(492.15,395.05) scale(1.115,1)" font-size="9.9" text-anchor="middle" fill="#2c2c2c" font-weight="normal"  stroke="#2c2c2c" stroke-width="0.12">Sharjah</text>
<path d="M492.05,442.95L492.05,407.95A40.65,35.0 0 0,1 494.63,408.02Z" fill="#10a0f8"/>
<path d="M492.05,442.95L494.63,408.02A40.65,35.0 0 0,1 499.74,408.58Z" fill="#ffd04d"/>
<path d="M492.05,442.95L499.74,408.58A40.65,35.0 0 0,1 532.57,445.72Z" fill="#99d1fc"/>
<path d="M492.05,442.95L532.57,445.72A40.65,35.0 0 1,1 492.05,407.95Z" fill="#abae88"/>
<text transform="translate(492.69,429.76) scale(1.13,1)" font-size="10.3" text-anchor="middle" fill="#111" font-weight="normal"  stroke="#111" stroke-width="0.35"><tspan font-family="NanumGothic, Liberation Sans, sans-serif" font-size="9.50">1</tspan></text>
<text transform="translate(494.62,429.89) scale(1.13,1)" font-size="10.3" text-anchor="middle" fill="#111" font-weight="normal"  stroke="#111" stroke-width="0.35">2</text>
<text transform="translate(508.22,436.65) scale(1.13,1)" font-size="10.3" text-anchor="middle" fill="#111" font-weight="normal"  stroke="#111" stroke-width="0.35">23</text>
<text transform="translate(477.12,459.12) scale(1.13,1)" font-size="10.3" text-anchor="middle" fill="#111" font-weight="normal"  stroke="#111" stroke-width="0.35">73</text>
<text transform="translate(88.80,521.20) scale(1.1,1)" font-size="11.6" text-anchor="start" fill="#151515" font-weight="normal"  stroke="#151515" stroke-width="0.62">Classes</text>
<rect x="140.00" y="497.90" width="18.9" height="16.5" fill="#77a5a1"/>
<text transform="translate(162.50,510.30) scale(1.15,1)" font-size="8.8" text-anchor="start" fill="#1a1a1a" font-weight="normal"  stroke="#1a1a1a" stroke-width="0.35">Class <tspan font-family="NanumGothic, Liberation Sans, sans-serif" font-size="8.11">1</tspan></text>
<rect x="200.50" y="497.90" width="18.9" height="16.5" fill="#ffe592"/>
<text transform="translate(223.00,510.30) scale(1.15,1)" font-size="8.8" text-anchor="start" fill="#1a1a1a" font-weight="normal"  stroke="#1a1a1a" stroke-width="0.35">Class 2</text>
<rect x="140.00" y="518.20" width="18.9" height="16.5" fill="#ff9f00"/>
<text transform="translate(162.50,531.10) scale(1.15,1)" font-size="8.8" text-anchor="start" fill="#1a1a1a" font-weight="normal"  stroke="#1a1a1a" stroke-width="0.35">Class 3</text>
<rect x="200.50" y="518.20" width="18.9" height="16.5" fill="#85e6f4"/>
<text transform="translate(223.00,531.10) scale(1.15,1)" font-size="8.8" text-anchor="start" fill="#1a1a1a" font-weight="normal"  stroke="#1a1a1a" stroke-width="0.35">Class 4</text>
<text transform="translate(274.20,521.20) scale(1.1,1)" font-size="11.6" text-anchor="start" fill="#151515" font-weight="normal"  stroke="#151515" stroke-width="0.62">Classes</text>
<rect x="326.40" y="497.90" width="18.9" height="16.5" fill="#abae88"/>
<text transform="translate(348.90,510.30) scale(1.15,1)" font-size="8.8" text-anchor="start" fill="#1a1a1a" font-weight="normal"  stroke="#1a1a1a" stroke-width="0.35">Class <tspan font-family="NanumGothic, Liberation Sans, sans-serif" font-size="8.11">1</tspan></text>
<rect x="386.90" y="497.90" width="18.9" height="16.5" fill="#99d1fc"/>
<text transform="translate(409.40,510.30) scale(1.15,1)" font-size="8.8" text-anchor="start" fill="#1a1a1a" font-weight="normal"  stroke="#1a1a1a" stroke-width="0.35">Class 2</text>
<rect x="326.40" y="518.20" width="18.9" height="16.5" fill="#ffd04d"/>
<text transform="translate(348.90,531.10) scale(1.15,1)" font-size="8.8" text-anchor="start" fill="#1a1a1a" font-weight="normal"  stroke="#1a1a1a" stroke-width="0.35">Class 3</text>
<rect x="386.90" y="518.20" width="18.9" height="16.5" fill="#10a0f8"/>
<text transform="translate(409.40,531.10) scale(1.15,1)" font-size="8.8" text-anchor="start" fill="#1a1a1a" font-weight="normal"  stroke="#1a1a1a" stroke-width="0.35">Class 4</text>
</svg>
</body></html>
